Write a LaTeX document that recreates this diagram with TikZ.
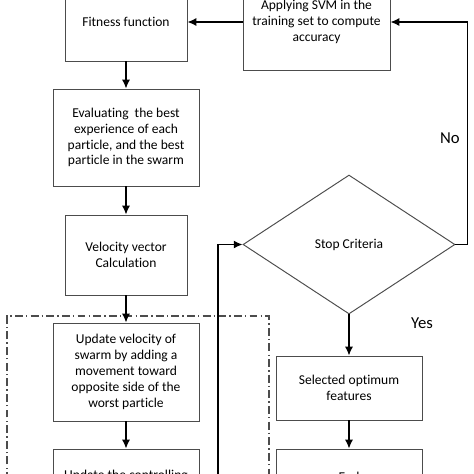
\documentclass[tikz,border=0pt]{standalone}
\usepackage{fontspec}
\setmainfont[Ligatures=NoCommon]{Carlito}
\usetikzlibrary{shapes.geometric,arrows.meta}
\begin{document}
\begin{tikzpicture}[x=0.02cm,y=-0.02cm,
    box/.style={draw=black!70,line width=0.55pt,align=center,inner sep=0pt,font=\fontsize{7.7}{9}\selectfont},
    arr/.style={-{Latex[length=5pt,width=4.5pt]},line width=0.7pt},
    lab/.style={font=\fontsize{9.5}{11}\selectfont}]
\useasboundingbox (0,0) rectangle (474,474);
\clip (0,0) rectangle (474,474);
% left column
\node[box,minimum width=2.44cm,minimum height=1.56cm] (fitness) at (126,22) {Fitness function};
\node[box,minimum width=2.92cm,minimum height=1.94cm] (evaluate) at (126,137.5) {Evaluating\ \ the best\\experience of each\\particle, and the best\\particle in the swarm};
\node[box,minimum width=2.44cm,minimum height=1.6cm] (velocity) at (126,255) {Velocity vector\\Calculation};
\node[box,minimum width=2.92cm,minimum height=1.96cm] (updvel) at (126,372) {Update velocity of\\swarm by adding a\\movement toward\\opposite side of the\\worst particle};
\node[box,minimum width=2.92cm,minimum height=1.96cm] (updctrl) at (126,498) {};
\node[font=\fontsize{7.7}{9}\selectfont] (ctrltext) at (126,476) {Update the controlling};
% right column
\node[box,minimum width=2.94cm,minimum height=1.92cm] (svm) at (316.5,22) {Applying SVM in the\\training set to compute\\accuracy};
\node[box,diamond,minimum width=4.24cm,minimum height=2.78cm] (stop) at (349,244.5) {Stop Criteria};
\node[box,minimum width=2.92cm,minimum height=1.28cm] (selected) at (349,388) {Selected optimum\\features};
\node[box,minimum width=2.92cm,minimum height=1.96cm] (endbox) at (349,498) {};
\node[font=\fontsize{7.7}{9}\selectfont] (endtext) at (349,477) {End};
\node[lab] (no) at (450,138) {No};
\node[lab] (yes) at (422,323) {Yes};
% group
\draw[black!70,line width=0.6pt,dash pattern=on 4.5pt off 1.8pt on 0.8pt off 1.8pt] (7,480) |- (269,316) -- (269,480);
% connectors
\draw[arr] (svm.west) -- (fitness.east);
\draw[arr] (fitness.south) -- (evaluate.north);
\draw[arr] (evaluate.south) -- (velocity.north);
\draw[arr] (velocity.south) -- (updvel.north);
\draw[arr] (updvel.south) -- (updctrl.north);
\draw[arr] (stop.south) -- (selected.north);
\draw[arr] (selected.south) -- (endbox.north);
\draw[arr] (stop.east) -- ++(12,0) |- (svm.east);
\coordinate (loopstart) at (218,480);
\draw[arr] (loopstart) |- (stop.west);
\end{tikzpicture}
\end{document}
